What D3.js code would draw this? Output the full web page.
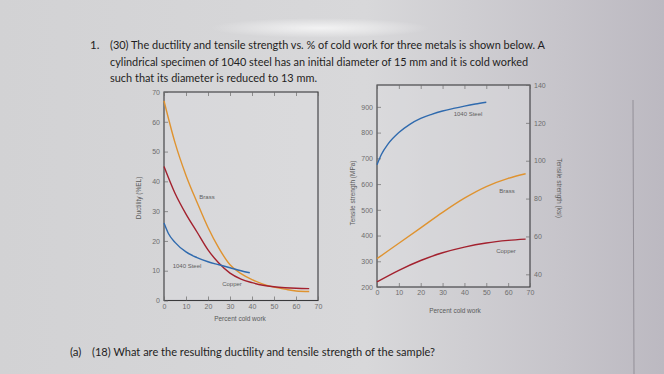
<!DOCTYPE html>
<html>
<head>
<meta charset="utf-8">
<script src="https://cdn.jsdelivr.net/npm/d3@7"></script>
<style>
  body { margin: 0; background: #d4d4d6; }
  svg { display: block; }
</style>
</head>
<body>
<svg id="page" width="664" height="374"></svg>
<script>
// cold work (%) vs ductility (%EL)
var ductBrass = [[0,67],[5,53],[10,42],[15,33],[20,24.5],[25,17.5],[30,12],[35,9],[40,7],[45,5.5],[50,4.5],[55,3.8],[60,3.2],[66,3]];
var ductCopper = [[0,45],[5,36],[10,29],[15,23],[20,17],[25,12.5],[30,9.2],[35,7.2],[40,6],[45,5.1],[50,4.6],[55,4.3],[60,4.1],[66,4]];
var ductSteel = [[0,26],[2,22.5],[5,19.5],[10,16.3],[15,14.4],[20,13],[25,12],[30,11],[35,10],[39,9.3]];

// cold work (%) vs tensile strength (MPa), right plot
var tsSteel = [[0,675],[2,715],[5,755],[10,800],[15,832],[20,855],[25,871],[30,884],[35,894],[40,903],[45,911],[50,918]];
var tsBrass = [[0,310],[10,370],[20,430],[30,490],[40,545],[50,590],[60,622],[68,640]];
var tsCopper = [[0,220],[10,265],[20,303],[30,333],[40,355],[50,371],[60,381],[68,386]];

var xTicks = [0,10,20,30,40,50,60,70];
var ductTicks = [0,10,20,30,40,50,60,70];
var mpaTicks = [200,300,400,500,600,700,800,900];
var ksiTicks = [40,60,80,100,120,140];

var textLines = [
  {x: 90, y: 49, t: "1.", w: null},
  {x: 110, y: 49, t: "(30) The ductility and tensile strength vs. % of cold work for three metals is shown below. A", w: 435},
  {x: 110, y: 66, t: "cylindrical specimen of 1040 steel has an initial diameter of 15 mm and it is cold worked", w: 418},
  {x: 110, y: 82, t: "such that its diameter is reduced to 13 mm.", w: 207},
  {x: 70, y: 356, t: "(a)", w: null},
  {x: 92, y: 356, t: "(18) What are the resulting ductility and tensile strength of the sample?", w: 343}
];

var cBlue = "#2f6aae", cOrange = "#df9330", cRed = "#a3212e";

var svg = d3.select("#page");

// photo-ish background
var defs = svg.append("defs");
var bg = defs.append("linearGradient").attr("id", "bg").attr("x1", 0).attr("x2", 1).attr("y1", 0).attr("y2", 0);
bg.append("stop").attr("offset", "0%").attr("stop-color", "#d2d2d4");
bg.append("stop").attr("offset", "55%").attr("stop-color", "#d8d8da");
bg.append("stop").attr("offset", "85%").attr("stop-color", "#c6c4ca");
bg.append("stop").attr("offset", "100%").attr("stop-color", "#bcb9c1");
var glare = defs.append("radialGradient").attr("id", "glare");
glare.append("stop").attr("offset", "0%").attr("stop-color", "#ffffff").attr("stop-opacity", 0.7);
glare.append("stop").attr("offset", "100%").attr("stop-color", "#ffffff").attr("stop-opacity", 0);

svg.append("rect").attr("width", 664).attr("height", 374).attr("fill", "url(#bg)");
svg.append("ellipse").attr("cx", 320).attr("cy", 28).attr("rx", 110).attr("ry", 10).attr("fill", "url(#glare)");
svg.append("line").attr("x1", 633).attr("x2", 634).attr("y1", 100).attr("y2", 374)
  .attr("stroke", "#77737c").attr("stroke-width", 1).attr("opacity", 0.6);

// question text
svg.selectAll("text.q").data(textLines).enter().append("text")
  .attr("class", "q")
  .attr("x", d => d.x).attr("y", d => d.y)
  .attr("textLength", d => d.w)
  .attr("lengthAdjust", "spacingAndGlyphs")
  .style("font-family", "Lato, 'Open Sans', sans-serif")
  .style("font-size", "11.5px")
  .attr("fill", "#1f1e22")
  .text(d => d.t);

var tickFont = "'Liberation Sans', Arial, sans-serif";

function styleAxis(g) {
  g.select(".domain").remove();
  g.selectAll(".tick line").attr("stroke", "#6a6a6a").attr("stroke-width", 0.7);
  g.selectAll(".tick text").attr("fill", "#6d6d6d").style("font-size", "7px").style("font-family", tickFont);
}

function frame(x0, x1, y0, y1) {
  svg.append("rect").attr("x", x0).attr("y", y1).attr("width", x1 - x0).attr("height", y0 - y1)
    .attr("fill", "#e0e0e2").attr("fill-opacity", 0.35)
    .attr("stroke", "#3a3a3c").attr("stroke-width", 1.1);
}

function curve(x, y, data, color) {
  svg.append("path").datum(data)
    .attr("fill", "none").attr("stroke", color).attr("stroke-width", 1.4)
    .attr("d", d3.line().x(d => x(d[0])).y(d => y(d[1])).curve(d3.curveMonotoneX));
}

function label(x, y, t) {
  svg.append("text").attr("x", x).attr("y", y).attr("text-anchor", "middle")
    .style("font-family", tickFont).style("font-size", "6px").attr("fill", "#5f5f5f").text(t);
}

function axisTitle(x, y, t, rot) {
  svg.append("text").attr("transform", "translate(" + x + "," + y + ")" + (rot ? " rotate(" + rot + ")" : ""))
    .attr("text-anchor", "middle")
    .style("font-family", tickFont).style("font-size", "6.5px").attr("fill", "#5a5a5a").text(t);
}

// ---- left: ductility ----
var xL = d3.scaleLinear().domain([0, 70]).range([164, 318]);
var yL = d3.scaleLinear().domain([0, 70]).range([300.5, 92]);
frame(164, 318, 300.5, 92);
svg.append("g").attr("transform", "translate(0,300.5)")
  .call(d3.axisBottom(xL).tickValues(xTicks).tickSize(-4).tickPadding(4)).call(styleAxis);
svg.append("g").attr("transform", "translate(0,92)")
  .call(d3.axisTop(xL).tickValues(xTicks).tickSize(-4).tickFormat("")).call(styleAxis);
svg.append("g").attr("transform", "translate(164,0)")
  .call(d3.axisLeft(yL).tickValues(ductTicks).tickSize(-4).tickPadding(4)).call(styleAxis);
curve(xL, yL, ductBrass, cOrange);
curve(xL, yL, ductCopper, cRed);
curve(xL, yL, ductSteel, cBlue);
label(207, 199, "Brass");
label(187, 268, "1040 Steel");
label(232, 286, "Copper");
axisTitle(240, 321, "Percent cold work");
axisTitle(141, 198, "Ductility (%EL)", -90);

// ---- right: tensile strength ----
var xR = d3.scaleLinear().domain([0, 70]).range([377, 530]);
var yR = d3.scaleLinear().domain([200, 985]).range([287, 85]);
var yK = d3.scaleLinear().domain([33.3, 140]).range([287, 85]);
frame(377, 530, 287, 85);
svg.append("g").attr("transform", "translate(0,287)")
  .call(d3.axisBottom(xR).tickValues(xTicks).tickSize(-4).tickPadding(3)).call(styleAxis);
svg.append("g").attr("transform", "translate(0,85)")
  .call(d3.axisTop(xR).tickValues(xTicks).tickSize(-4).tickFormat("")).call(styleAxis);
svg.append("g").attr("transform", "translate(377,0)")
  .call(d3.axisLeft(yR).tickValues(mpaTicks).tickSize(-4).tickPadding(4)).call(styleAxis);
svg.append("g").attr("transform", "translate(530,0)")
  .call(d3.axisRight(yK).tickValues(ksiTicks).tickSize(-4).tickPadding(4)).call(styleAxis);
curve(xR, yR, tsSteel, cBlue);
curve(xR, yR, tsBrass, cOrange);
curve(xR, yR, tsCopper, cRed);
label(468, 116, "1040 Steel");
label(507, 193, "Brass");
label(506, 253, "Copper");
axisTitle(455, 313, "Percent cold work");
axisTitle(355, 193, "Tensile strength (MPa)", -90);
axisTitle(557, 188, "Tensile strength (ksi)", 90);
</script>
</body>
</html>
